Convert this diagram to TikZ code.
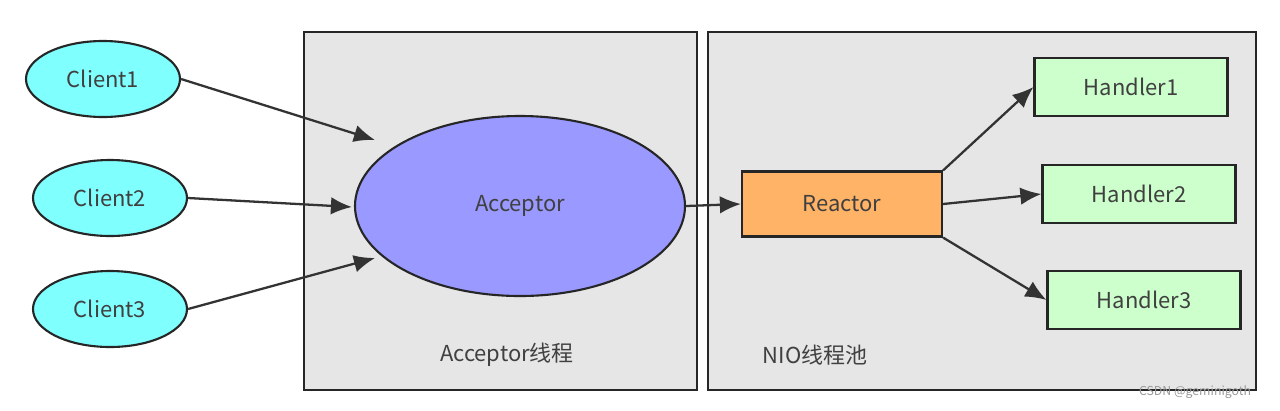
\documentclass[tikz,border=0pt]{standalone}
\usepackage{fontspec}
\setmainfont{Noto Sans CJK SC}
\usetikzlibrary{shapes.geometric,arrows.meta}
\definecolor{boxgray}{HTML}{E6E6E6}
\definecolor{cli}{HTML}{80FFFF}
\definecolor{acc}{HTML}{9999FF}
\definecolor{rea}{HTML}{FFB366}
\definecolor{han}{HTML}{CCFFCC}
\tikzset{
 every node/.style={font=\fontsize{12.5}{14}\selectfont, text=black!75},
 cl/.style={ellipse,draw=black!85,line width=1.2pt,fill=cli,minimum width=154*0.02cm,minimum height=76*0.02cm},
 hd/.style={rectangle,draw=black!85,line width=1.2pt,fill=han,minimum width=193*0.02cm,minimum height=58*0.02cm},
 arr/.style={-{Latex[length=12pt,width=10pt]},line width=1.3pt,draw=black!80},
 panel/.style={draw=black!85,line width=1.2pt,fill=boxgray}
}
\begin{document}
\begin{tikzpicture}[x=0.02cm,y=-0.02cm]
\useasboundingbox (0,0) rectangle (1280,410);
\fill[white] (0,0) rectangle (1280,410);
\draw[panel] (304,32) rectangle (697,390);
\draw[panel] (708,32) rectangle (1256,390);
\node (c1) [cl] at (103,79) {Client1};
\node (c2) [cl] at (110,198) {Client2};
\node (c3) [cl] at (110,309) {Client3};
\node (a) [ellipse,draw=black!85,line width=1.2pt,fill=acc,minimum width=330*0.02cm,minimum height=180*0.02cm] at (520,206) {Acceptor};
\node (r) [rectangle,draw=black!85,line width=1.2pt,fill=rea,minimum width=200*0.02cm,minimum height=65*0.02cm] at (842,204) {Reactor};
\node (h1) [hd] at (1131,87) {Handler1};
\node (h2) [hd] at (1139,194) {Handler2};
\node (h3) [hd] at (1144,300) {Handler3};
\node (l1) at (507,355) {Acceptor线程};
\node (l2) at (815,355) {NIO线程池};
\node (wm) [font=\fontsize{7}{8}\selectfont,text=black!40] at (1195,392) {CSDN @geminigoth};
\coordinate (t1) at (375,140);
\coordinate (t2) at (352,207);
\coordinate (t3) at (375,258);
\draw[arr] (c1.east) -- (t1);
\draw[arr] (c2.east) -- (t2);
\draw[arr] (c3.east) -- (t3);
\draw[arr] (a.east) -- (r.west);
\draw[arr] (r.north east) -- (h1.west);
\draw[arr] (r.east) -- (h2.west);
\draw[arr] (r.south east) -- (h3.west);
\end{tikzpicture}
\end{document}
